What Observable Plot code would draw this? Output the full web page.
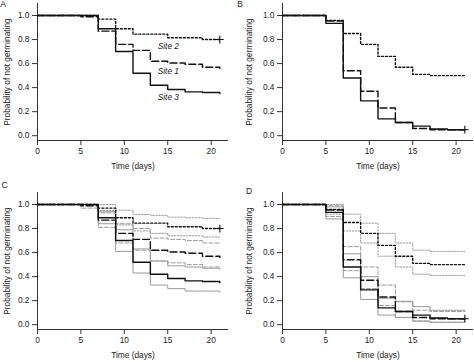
<!DOCTYPE html>
<html>
<head>
<meta charset="utf-8">
<script src="https://cdn.jsdelivr.net/npm/d3@7"></script>
<script src="https://cdn.jsdelivr.net/npm/@observablehq/plot@0.6"></script>
<style>
  html, body { margin: 0; padding: 0; background: #fff; }
  #wrap { position: relative; width: 474px; height: 362px; overflow: hidden; background: #fff; }
  .pane { position: absolute; }
  .pane svg { overflow: visible; }
</style>
</head>
<body>
<div id="wrap">
  <div class="pane" id="pA" style="left:0;top:0"></div>
  <div class="pane" id="pB" style="left:237px;top:0"></div>
  <div class="pane" id="pC" style="left:0;top:181px"></div>
  <div class="pane" id="pD" style="left:237px;top:181px"></div>
</div>
<script>
// ---- data ----
const times = [0, 5, 7, 9, 11, 13, 15, 17, 19, 21];
const xTicks = [0, 5, 10, 15, 20];
const yTicks = [0, 0.2, 0.4, 0.6, 0.8, 1.0];
const panelLetters = ["A", "B", "C", "D"];
const xLabel = "Time (days)";
const yLabel = "Probability of not germinating";

// Panels A / C
const acSite1 = [1, 0.99, 0.87, 0.76, 0.71, 0.62, 0.605, 0.595, 0.57, 0.56];
const acSite2 = [1, 1, 0.97, 0.89, 0.845, 0.845, 0.815, 0.815, 0.80, 0.80];
const acSite3 = [1, 1, 0.89, 0.70, 0.52, 0.42, 0.385, 0.365, 0.36, 0.35];
const cSite1Upper = [1, 1.0, 0.93, 0.84, 0.80, 0.72, 0.71, 0.70, 0.68, 0.675];
const cSite1Lower = [1, 0.97, 0.81, 0.68, 0.62, 0.53, 0.515, 0.50, 0.48, 0.475];
const cSite2Upper = [1, 1, 1.0, 0.953, 0.917, 0.91, 0.895, 0.89, 0.885, 0.883];
const cSite2Lower = [1, 1, 0.95, 0.83, 0.78, 0.76, 0.74, 0.74, 0.73, 0.73];
const cSite3Upper = [1, 1, 0.94, 0.79, 0.63, 0.53, 0.49, 0.48, 0.47, 0.46];
const cSite3Lower = [1, 1, 0.84, 0.61, 0.43, 0.33, 0.30, 0.28, 0.28, 0.27];

// Panels B / D
const bdSolid = [1, 0.935, 0.48, 0.29, 0.14, 0.11, 0.08, 0.056, 0.05, 0.05];
const bdDashed = [1, 0.955, 0.54, 0.37, 0.23, 0.11, 0.06, 0.05, 0.05, 0.05];
const bdDotted = [1, 0.96, 0.85, 0.76, 0.66, 0.57, 0.51, 0.50, 0.50, 0.50];
const dDottedUpper = [1, 1.0, 0.92, 0.845, 0.76, 0.68, 0.62, 0.61, 0.61, 0.60];
const dDottedLower = [1, 0.92, 0.78, 0.68, 0.57, 0.48, 0.42, 0.41, 0.41, 0.405];
const dDashedUpper = [1, 0.99, 0.65, 0.48, 0.33, 0.19, 0.12, 0.11, 0.11, 0.11];
const dDashedLower = [1, 0.90, 0.45, 0.30, 0.16, 0.06, 0.03, 0.02, 0.02, 0.02];
const dSolidUpper = [1, 0.98, 0.59, 0.40, 0.22, 0.195, 0.15, 0.12, 0.12, 0.11];
const dSolidLower = [1, 0.88, 0.39, 0.21, 0.08, 0.06, 0.03, 0.02, 0.02, 0.02];

// Censor marks
const censorAC_t = [21], censorAC_v = [0.80];
const censorBD_t = [21], censorBD_v = [0.05];

// Site labels (panel A)
const siteLabels = ["Site 2", "Site 1", "Site 3"];
const siteLabelX = [15.07, 15.07, 15.07];
const siteLabelY = [0.742, 0.533, 0.317];

// ---- helpers ----
const rows = vals => times.map((t, i) => ({t, v: vals[i]}));
const FONT = "'Liberation Sans', Arial, Helvetica, sans-serif";
const FS = 8.3;
const BLACK = "#111";
const GRAY = "#9a9a9a";
const DASH = "7,3";
const DOT = "2,2";

function stepLine(vals, stroke, width, dash) {
  return Plot.line(rows(vals), {
    x: "t", y: "v", curve: "step-after",
    stroke, strokeWidth: width, strokeDasharray: dash
  });
}

function panel(opts) {
  const marks = [
    Plot.ruleX([0], {stroke: "#333", strokeWidth: 1}),
    Plot.ruleY([-0.04], {stroke: "#333", strokeWidth: 1}),
    Plot.axisX({ticks: xTicks, tickSize: 5, tickPadding: 3, label: null, fontSize: FS, stroke: "#333"}),
    Plot.axisY({ticks: yTicks, tickFormat: d3.format(".1f"), tickSize: 5, tickPadding: 3, label: null, fontSize: FS, stroke: "#333"}),
    Plot.text([xLabel], {frameAnchor: "bottom", dy: 26, fontSize: FS, fill: "#222", textAnchor: "middle", lineAnchor: "middle"}),
    Plot.text([yLabel], {frameAnchor: "left", rotate: -90, dx: opts.ylabDx, fontSize: FS, fill: "#222", textAnchor: "middle", lineAnchor: "middle"}),
    Plot.text([opts.letter], {frameAnchor: "top-left", dx: opts.letterDx, dy: opts.letterDy, fontSize: 8.5, fill: "#222", textAnchor: "middle", lineAnchor: "middle"}),
    ...opts.gray.map(g => stepLine(g.vals, GRAY, 1, g.dash)),
    ...opts.black.map(g => stepLine(g.vals, BLACK, 1.4, g.dash)),
    Plot.dot(opts.censorT.map((t, i) => ({t, v: opts.censorV[i]})), {x: "t", y: "v", symbol: "plus", r: 2.6, stroke: BLACK, strokeWidth: 1.1})
  ];
  if (opts.labels) {
    marks.push(Plot.text(siteLabels.map((s, i) => ({s, x: siteLabelX[i], y: siteLabelY[i]})), {
      x: "x", y: "y", text: "s", fontSize: FS, fontStyle: "italic", fill: "#222"
    }));
  }
  return Plot.plot({
    width: 237, height: 181,
    marginLeft: opts.ml, marginRight: opts.mr, marginTop: opts.mt, marginBottom: opts.mb,
    x: {domain: [0, 22]},
    y: {domain: [-0.04, 1.1]},
    style: {fontFamily: FONT, fontSize: FS + "px", color: "#222", background: "transparent", overflow: "visible"},
    marks
  });
}

const black3 = [
  {vals: acSite2, dash: DOT},
  {vals: acSite1, dash: DASH},
  {vals: acSite3, dash: null}
];
const blackBD = [
  {vals: bdDotted, dash: DOT},
  {vals: bdDashed, dash: DASH},
  {vals: bdSolid, dash: null}
];

document.getElementById("pA").appendChild(panel({
  letter: panelLetters[0], letterDx: -34.5, letterDy: 0.5, ylabDx: -30,
  ml: 37, mr: 9, mt: 3, mb: 41,
  gray: [], black: black3, censorT: censorAC_t, censorV: censorAC_v, labels: true
}));
document.getElementById("pB").appendChild(panel({
  letter: panelLetters[1], letterDx: -42.5, letterDy: 0.5, ylabDx: -33,
  ml: 45, mr: 1, mt: 3, mb: 41,
  gray: [], black: blackBD, censorT: censorBD_t, censorV: censorBD_v, labels: false
}));
document.getElementById("pC").appendChild(panel({
  letter: panelLetters[2], letterDx: -33, letterDy: -7.5, ylabDx: -30.5,
  ml: 37, mr: 9, mt: 11, mb: 33,
  gray: [
    {vals: cSite2Upper, dash: "1.5,1.5"}, {vals: cSite2Lower, dash: "1.5,1.5"},
    {vals: cSite1Upper, dash: "4,2"}, {vals: cSite1Lower, dash: "4,2"},
    {vals: cSite3Upper, dash: null}, {vals: cSite3Lower, dash: null}
  ],
  black: black3, censorT: censorAC_t, censorV: censorAC_v, labels: false
}));
document.getElementById("pD").appendChild(panel({
  letter: panelLetters[3], letterDx: -33.5, letterDy: -1, ylabDx: -33,
  ml: 45, mr: 1, mt: 11, mb: 33,
  gray: [
    {vals: dDottedUpper, dash: "1.5,1.5"}, {vals: dDottedLower, dash: "1.5,1.5"},
    {vals: dDashedUpper, dash: "4,2"}, {vals: dDashedLower, dash: "4,2"},
    {vals: dSolidUpper, dash: null}, {vals: dSolidLower, dash: null}
  ],
  black: blackBD, censorT: censorBD_t, censorV: censorBD_v, labels: false
}));
</script>
</body>
</html>
